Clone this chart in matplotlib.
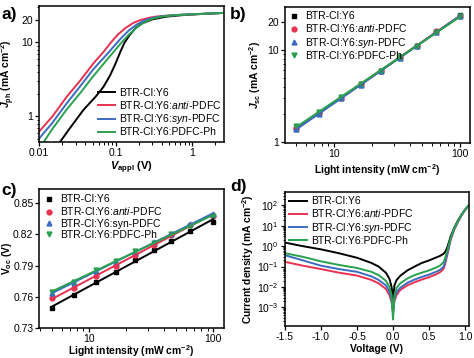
import numpy as np
import matplotlib
matplotlib.use('Agg')
import matplotlib.pyplot as plt
from matplotlib.ticker import FixedLocator, FixedFormatter, NullFormatter, LogLocator

plt.rcParams['font.family'] = ['Liberation Sans', 'DejaVu Sans']
plt.rcParams['mathtext.fontset'] = 'custom'
plt.rcParams['mathtext.rm'] = 'Liberation Sans'
plt.rcParams['mathtext.it'] = 'Liberation Sans:italic'
plt.rcParams['mathtext.bf'] = 'Liberation Sans:bold'
try:
    plt.rcParams['mathtext.bfit'] = 'Liberation Sans:italic:bold'
except Exception:
    pass

# ---------------- data ----------------
names_italic = ["BTR-Cl:Y6", r"BTR-Cl:Y6:$\mathit{anti}$-PDFC",
                r"BTR-Cl:Y6:$\mathit{syn}$-PDFC", "BTR-Cl:Y6:PDFC-Ph"]
names_c = ["BTR-Cl:Y6", r"BTR-Cl:Y6:$\mathit{anti}$-PDFC",
           "BTR-Cl:Y6:syn-PDFC", "BTR-Cl:Y6:PDFC-Ph"]
colors = ["#000000", "#e8314f", "#3b6bc4", "#2aa14f"]
markers = ["s", "o", "^", "v"]

# (a) photocurrent vs effective voltage
va_black = [0.0188, 0.025, 0.038, 0.055, 0.0693, 0.085, 0.1, 0.115, 0.13, 0.15, 0.18, 0.22, 0.3, 0.45, 0.7, 1.0, 1.6, 2.6]
ja_black = [0.45, 0.68, 1.22, 1.85, 2.5, 3.6, 5.2, 7.4, 9.8, 12.3, 15.4, 18.0, 20.4, 22.2, 23.2, 23.8, 24.4, 25.0]
va_red = [0.01, 0.015, 0.023, 0.035, 0.0513, 0.07, 0.085, 0.105, 0.133, 0.17, 0.21, 0.28, 0.35, 0.5, 0.8, 1.2, 1.8, 2.6]
ja_red = [0.62, 1.0, 1.84, 3.1, 5.2, 7.5, 9.7, 12.5, 15.5, 18.3, 20.0, 21.6, 22.4, 23.1, 23.7, 24.1, 24.6, 25.0]
va_blue = [0.01, 0.015, 0.023, 0.035, 0.05, 0.06, 0.08, 0.1, 0.12, 0.15, 0.19, 0.24, 0.3, 0.4, 0.6, 1.0, 1.6, 2.6]
ja_blue = [0.5, 0.82, 1.5, 2.6, 4.2, 5.2, 7.2, 9.4, 11.6, 14.6, 17.5, 19.8, 21.3, 22.5, 23.4, 24.0, 24.5, 25.0]
va_green = [0.0115, 0.015, 0.023, 0.035, 0.05, 0.065, 0.08, 0.1, 0.12, 0.15, 0.19, 0.24, 0.3, 0.4, 0.6, 1.0, 1.6, 2.6]
ja_green = [0.45, 0.68, 1.24, 2.1, 3.4, 4.7, 6.1, 8.0, 10.0, 12.8, 16.0, 18.8, 20.8, 22.3, 23.3, 24.0, 24.5, 25.0]

# light intensity (b, c)
light = [5.0, 7.6, 11.4, 16.4, 23.5, 33.5, 45.5, 65.0, 100.0]
jsc_black = [1.40, 2.05, 3.0, 4.2, 5.9, 8.2, 11.0, 15.5, 23.5]
jsc_red = [1.41, 2.07, 3.02, 4.25, 5.95, 8.3, 11.1, 15.8, 23.2]
jsc_blue = [1.38, 2.02, 2.98, 4.2, 5.9, 8.2, 11.0, 15.6, 23.3]
jsc_green = [1.49, 2.12, 3.05, 4.28, 5.95, 8.25, 11.0, 15.5, 23.0]

voc_black = [0.749, 0.762, 0.774, 0.784, 0.795, 0.805, 0.8135, 0.823, 0.832]
voc_red = [0.7585, 0.768, 0.780, 0.790, 0.800, 0.810, 0.8195, 0.829, 0.838]
voc_blue = [0.7636, 0.7733, 0.785, 0.7935, 0.803, 0.8125, 0.8205, 0.8297, 0.8395]
voc_green = [0.765, 0.774, 0.7855, 0.7945, 0.804, 0.812, 0.820, 0.828, 0.8375]

# (d) dark current
vd = [-1.5, -1.25, -1.0, -0.75, -0.5, -0.3, -0.2, -0.1, -0.05, -0.02, 0.0, 0.02, 0.05, 0.1, 0.2, 0.3,
      0.4, 0.5, 0.6, 0.65, 0.7, 0.72, 0.75, 0.8, 0.85, 0.9, 0.95, 1.0, 1.05]
jd_black = [1.5, 1.0, 0.7, 0.45, 0.27, 0.15, 0.1, 0.05, 0.025, 0.01, 0.0025, 0.012, 0.022, 0.035, 0.065, 0.1,
            0.15, 0.2, 0.28, 0.33, 0.42, 0.5, 0.8, 3.0, 8.0, 18.0, 35.0, 62.0, 100.0]
jd_red = [0.17, 0.11, 0.075, 0.05, 0.036, 0.022, 0.015, 0.008, 0.004, 0.0018, 0.0006, 0.002, 0.004, 0.007, 0.012, 0.017,
          0.023, 0.03, 0.042, 0.052, 0.075, 0.12, 0.33, 2.0, 6.5, 15.0, 32.0, 60.0, 100.0]
jd_blue = [0.36, 0.2, 0.11, 0.075, 0.055, 0.033, 0.022, 0.012, 0.006, 0.0025, 0.0005, 0.0028, 0.0055, 0.009, 0.016, 0.023,
           0.031, 0.04, 0.056, 0.068, 0.095, 0.15, 0.4, 2.2, 7.0, 16.0, 33.0, 61.0, 100.0]
jd_green = [0.45, 0.3, 0.18, 0.12, 0.085, 0.055, 0.038, 0.02, 0.01, 0.004, 0.00025, 0.004, 0.009, 0.015, 0.026, 0.038,
            0.05, 0.065, 0.09, 0.11, 0.16, 0.24, 0.55, 2.5, 7.5, 17.0, 34.0, 62.0, 100.0]

# ---------------- figure ----------------
W, H = 474, 358
fig = plt.figure(figsize=(W / 100, H / 100), dpi=100)


def make_ax(l, r, t, b):
    return fig.add_axes([l / W, 1 - b / H, (r - l) / W, (b - t) / H])


ax_a = make_ax(39, 224, 6, 142)
ax_b = make_ax(285, 470, 7, 143)
ax_c = make_ax(39, 224, 189, 328)
ax_d = make_ax(285, 469, 192, 326)

TFS = 7.5
LFS = 7.4
for ax in (ax_a, ax_b, ax_c, ax_d):
    for s in ax.spines.values():
        s.set_linewidth(1.1)
    ax.tick_params(which='both', direction='out', top=False, right=False, labelsize=TFS, pad=1.5)
    ax.tick_params(which='major', length=3, width=0.9)
    ax.tick_params(which='minor', length=1.8, width=0.7)

# (a)
for v, j, c in zip([va_black, va_red, va_blue, va_green], [ja_black, ja_red, ja_blue, ja_green], colors):
    ax_a.plot(v, j, color=c, lw=1.4)
ax_a.set_xscale('log')
ax_a.set_yscale('log')
ax_a.set_xlim(0.01, 2.6)
ax_a.set_ylim(0.45, 31)
ax_a.xaxis.set_major_locator(FixedLocator([0.01, 0.1, 1]))
ax_a.xaxis.set_major_formatter(FixedFormatter(["0.01", "0.1", "1"]))
ax_a.xaxis.set_minor_formatter(NullFormatter())
ax_a.yaxis.set_major_locator(FixedLocator([1, 10, 20]))
ax_a.yaxis.set_major_formatter(FixedFormatter(["1", "10", "20"]))
ax_a.yaxis.set_minor_formatter(NullFormatter())
ax_a.set_xlabel(r"$\mathbfit{V}_{\mathbf{appl}}$ (V)", fontsize=LFS + 0.5, fontweight='bold', labelpad=1)
ax_a.set_ylabel(r"$\mathbfit{J}_{\mathbf{ph}}$ (mA cm$^{\mathbf{-2}}$)", fontsize=LFS, fontweight='bold', labelpad=3)
ax_a.legend(names_italic, loc='lower right', bbox_to_anchor=(1.0, 0.02), frameon=False, fontsize=TFS,
            handlelength=1.7, handletextpad=0.4, labelspacing=0.1, borderaxespad=0.1, borderpad=0.1)

# (b)
lx = np.log10(light)
for y, c, m in zip([jsc_black, jsc_red, jsc_blue, jsc_green], colors, markers):
    ax_b.plot(light, y, ls='none', marker=m, color=c, ms=3.5)
for y, c in zip([jsc_black, jsc_red, jsc_blue, jsc_green], colors):
    p = np.polyfit(lx, np.log10(y), 1)
    xx = np.array([light[0], light[-1]])
    ax_b.plot(xx, 10 ** np.polyval(p, np.log10(xx)), color=c, lw=1.4)
ax_b.set_xscale('log')
ax_b.set_yscale('log')
ax_b.set_xlim(4.1, 120)
ax_b.set_ylim(0.98, 29)
ax_b.xaxis.set_major_locator(FixedLocator([10, 100]))
ax_b.xaxis.set_major_formatter(FixedFormatter(["10", "100"]))
ax_b.xaxis.set_minor_formatter(NullFormatter())
ax_b.yaxis.set_major_locator(FixedLocator([1, 10, 20]))
ax_b.yaxis.set_major_formatter(FixedFormatter(["1", "10", "20"]))
ax_b.yaxis.set_minor_formatter(NullFormatter())
ax_b.set_xlabel(r"Light intensity (mW cm$^{\mathbf{-2}}$)", fontsize=LFS, fontweight='bold', labelpad=2)
ax_b.set_ylabel(r"$\mathbfit{J}_{\mathbf{sc}}$ (mA cm$^{\mathbf{-2}}$)", fontsize=LFS, fontweight='bold', labelpad=3)
hb = [plt.Line2D([], [], ls='none', marker=m, color=c, ms=3.5) for c, m in zip(colors, markers)]
ax_b.legend(hb, names_italic, loc='upper left', frameon=False, fontsize=TFS, handlelength=1.0,
            handletextpad=0.5, labelspacing=0.12, borderaxespad=0.2, borderpad=0.2)

# (c)
for y, c, m in zip([voc_black, voc_red, voc_blue, voc_green], colors, markers):
    ax_c.plot(light, y, ls='none', marker=m, color=c, ms=3.5)
for y, c in zip([voc_black, voc_red, voc_blue, voc_green], colors):
    p = np.polyfit(lx, y, 1)
    xx = np.array([light[0], light[-1]])
    ax_c.plot(xx, np.polyval(p, np.log10(xx)), color=c, lw=1.4)
ax_c.set_xscale('log')
ax_c.set_xlim(3.95, 122)
ax_c.set_ylim(0.73, 0.8635)
ax_c.set_yticks([0.73, 0.76, 0.79, 0.82, 0.85])
ax_c.set_yticklabels(["0.73", "0.76", "0.79", "0.82", "0.85"])
ax_c.tick_params(axis='y', pad=1)
ax_c.xaxis.set_major_locator(FixedLocator([10, 100]))
ax_c.xaxis.set_major_formatter(FixedFormatter(["10", "100"]))
ax_c.xaxis.set_minor_formatter(NullFormatter())
ax_c.set_xlabel(r"Light intensity (mW cm$^{\mathbf{-2}}$)", fontsize=LFS, fontweight='bold', labelpad=-0.5)
ax_c.set_ylabel(r"$\mathbf{V_{oc}}$ (V)", fontsize=LFS, fontweight='bold', labelpad=-0.5)
ax_c.legend(hb, names_c, loc='upper left', frameon=False, fontsize=TFS, handlelength=1.0,
            handletextpad=0.5, labelspacing=0.12, borderaxespad=0.3, borderpad=0.2)

# (d)
for y, c in zip([jd_black, jd_red, jd_blue, jd_green], colors):
    ax_d.plot(vd, y, color=c, lw=1.4)
ax_d.set_yscale('log')
ax_d.set_xlim(-1.5, 1.055)
ax_d.set_ylim(1.2e-4, 460)
ax_d.set_xticks([-1.5, -1.0, -0.5, 0.0, 0.5, 1.0])
ax_d.set_xticklabels(["-1.5", "-1.0", "-0.5", "0.0", "0.5", "1.0"])
ax_d.yaxis.set_major_locator(FixedLocator([1e-3, 1e-2, 1e-1, 1, 10, 100]))
ax_d.yaxis.set_major_formatter(FixedFormatter([r"10$^{-3}$", r"10$^{-2}$", r"10$^{-1}$",
                                               r"10$^{0}$", r"10$^{1}$", r"10$^{2}$"]))
ax_d.yaxis.set_minor_locator(LogLocator(base=10, subs=np.arange(2, 10) * 1.0, numticks=20))
ax_d.yaxis.set_minor_formatter(NullFormatter())
ax_d.set_xlabel("Voltage (V)", fontsize=LFS, fontweight='bold', labelpad=1)
ax_d.set_ylabel(r"Current density (mA cm$^{\mathbf{-2}}$)", fontsize=LFS, fontweight='bold', labelpad=1)
ax_d.legend(names_italic, loc='upper left', frameon=False, fontsize=TFS, handlelength=1.7,
            handletextpad=0.4, labelspacing=0.12, borderaxespad=0.2, borderpad=0.2)

# panel letters
for txt, x, y in [("a)", 1, 15), ("b)", 230, 15), ("c)", 1, 190), ("d)", 230, 187)]:
    fig.text(x / W, 1 - y / H, txt, fontsize=12.5, fontweight='bold', va='center', ha='left')

fig.savefig("out.png", dpi=100)
